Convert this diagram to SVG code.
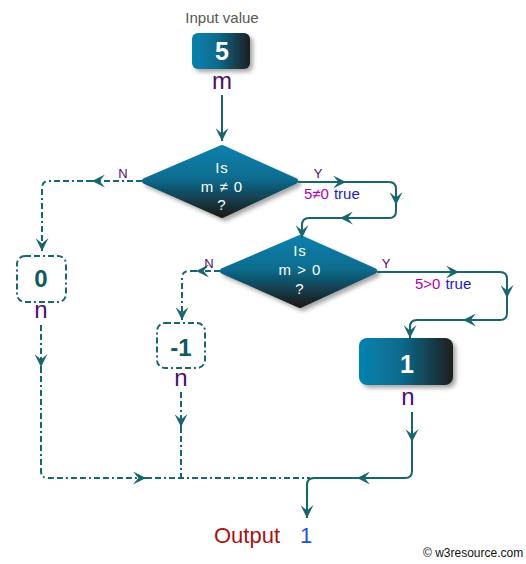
<svg xmlns="http://www.w3.org/2000/svg" width="526" height="564" viewBox="0 0 526 564">
<defs>
<linearGradient id="bg" x1="0" y1="0" x2="1" y2="0">
<stop offset="0" stop-color="#0583b0"/><stop offset="0.45" stop-color="#0b6a8c"/><stop offset="1" stop-color="#1e1e1e"/>
</linearGradient>
<linearGradient id="dg" x1="0" y1="0" x2="0" y2="1">
<stop offset="0" stop-color="#087fab"/><stop offset="0.45" stop-color="#0a6d90"/><stop offset="1" stop-color="#1c1c1c"/>
</linearGradient>
<filter id="sh" x="-20%" y="-20%" width="150%" height="150%">
<feDropShadow dx="3" dy="3" stdDeviation="2" flood-color="#000" flood-opacity="0.35"/>
</filter>
<marker id="ar" viewBox="0 0 12 12" refX="12" refY="6" markerWidth="13" markerHeight="13" markerUnits="userSpaceOnUse" orient="auto">
<path d="M0,0 L12,6 L0,12 L5,6 Z" fill="#17666c"/>
</marker>
<style>
.c{fill:none;stroke:#17666c;stroke-width:2}
.d{fill:none;stroke:#17666c;stroke-width:2;stroke-dasharray:6 3 6 3 2 3}
.a{marker-end:url(#ar)}
.t{font-family:"Liberation Sans",Arial,sans-serif}
.w{fill:#fff;font-size:15px;text-anchor:middle;letter-spacing:1px}
.big{fill:#fff;font-size:25px;font-weight:bold;text-anchor:middle}
.v{fill:#4a0f6e;text-anchor:middle}
.lbl{fill:#4a0f6e;font-size:13px;text-anchor:middle}
.mg{fill:#b000b0}
.bl{fill:#1a1acc}
</style>
</defs>
<text class="t" x="222" y="23" font-size="15" fill="#555" text-anchor="middle">Input value</text>
<g id="input">
<rect x="192" y="33" width="58" height="36" rx="6" fill="url(#bg)" filter="url(#sh)"/>
<text class="t big" x="222" y="60">5</text>
<text class="t v" x="222" y="89" font-size="24">m</text>
</g>
<g id="dec1">
<path d="M145,181 L222,148 L295,181 L222,215 Z" fill="url(#dg)" stroke="url(#dg)" stroke-width="6" stroke-linejoin="round" filter="url(#sh)"/>
<text class="t w" x="222" y="173">Is</text>
<text class="t w" x="222" y="192">m ≠ 0</text>
<text class="t w" x="222" y="210">?</text>
</g>
<g id="dec2">
<path d="M223,271 L300,238 L374,271 L300,305 Z" fill="url(#dg)" stroke="url(#dg)" stroke-width="6" stroke-linejoin="round" filter="url(#sh)"/>
<text class="t w" x="300" y="256">Is</text>
<text class="t w" x="300" y="275">m &gt; 0</text>
<text class="t w" x="300" y="294">?</text>
</g>
<g id="zero">
<rect x="17" y="256" width="49" height="46" rx="8" class="d"/>
<text class="t" x="41" y="287" font-size="24" font-weight="bold" fill="#0f5a5e" text-anchor="middle">0</text>
<text class="t v" x="41" y="318" font-size="24">n</text>
</g>
<g id="minus1">
<rect x="157" y="323" width="48" height="45" rx="8" class="d"/>
<text class="t" x="181" y="356" font-size="24" font-weight="bold" fill="#0f5a5e" text-anchor="middle">-1</text>
<text class="t v" x="181" y="386" font-size="24">n</text>
</g>
<g id="one">
<rect x="359" y="338" width="94" height="47" rx="8" fill="url(#bg)" filter="url(#sh)"/>
<text class="t big" x="407" y="373">1</text>
<text class="t v" x="408" y="405" font-size="24">n</text>
</g>
<g id="connectors">
<path class="c a" d="M222,95 V141"/>
<path class="c a" d="M298,182 H346"/>
<path class="c a" d="M346,182 H389 Q396,182 396,189 V205"/>
<path class="c a" d="M396,205 V211 Q396,218 389,218 H340"/>
<path class="c a" d="M340,218 H309 Q302,218 302,225 V238"/>
<path class="c a" d="M377,272 H459"/>
<path class="c a" d="M459,272 H500 Q507,272 507,279 V298"/>
<path class="c a" d="M507,298 V313 Q507,320 500,320 H463"/>
<path class="c a" d="M463,320 H417 Q410,320 410,327 V338"/>
<path class="c a" d="M412,412 V442"/>
<path class="c a" d="M412,442 V471 Q412,478 405,478 H357"/>
<path class="c a" d="M357,478 H314 Q307,478 307,485 V518"/>
<path class="d a" d="M142,181 H92"/>
<path class="d a" d="M92,181 H49 Q42,181 42,188 V251"/>
<path class="d a" d="M41,325 V367"/>
<path class="d a" d="M41,367 V471 Q41,478 48,478 H146"/>
<path class="d" d="M146,478 H310"/>
<path class="d a" d="M220,271 H196"/>
<path class="d a" d="M196,271 H189 Q182,271 182,278 V320"/>
<path class="d a" d="M181,392 V427"/>
<path class="d" d="M181,427 V478"/>
</g>
<g id="labels">
<text class="t lbl" x="318" y="178">Y</text>
<text class="t" x="304" y="199" font-size="15"><tspan class="mg">5≠0</tspan><tspan class="bl" dx="5">true</tspan></text>
<text class="t lbl" x="386" y="268">Y</text>
<text class="t" x="415" y="289" font-size="15"><tspan class="mg">5&gt;0</tspan><tspan class="bl" dx="5">true</tspan></text>
<text class="t lbl" x="123" y="178">N</text>
<text class="t lbl" x="209" y="268">N</text>
</g>
<text class="t" x="214" y="543" font-size="22" fill="#aa1111">Output</text>
<text class="t" x="300" y="543" font-size="22" fill="#2255cc">1</text>
<text class="t" x="423" y="557" font-size="12" fill="#111">© w3resource.com</text>
</svg>
